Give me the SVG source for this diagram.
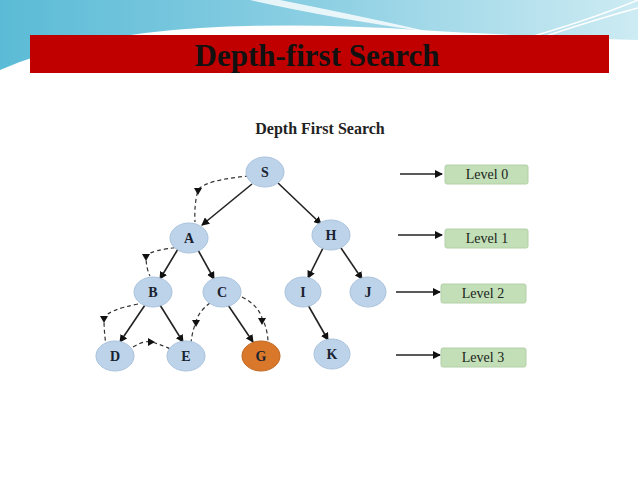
<svg xmlns="http://www.w3.org/2000/svg" width="638" height="478" viewBox="0 0 638 478">
<style>
.n{fill:#bcd3ea;stroke:#a9c2dc;stroke-width:1}
.nt{font-family:"Liberation Serif",serif;font-weight:bold;font-size:14px;fill:#1a2230;text-anchor:middle}
.e{stroke:#222;stroke-width:1.6;fill:none;marker-end:url(#ah)}
.d{stroke:#333;stroke-width:1.2;stroke-dasharray:4 3;fill:none}
.lv{fill:#c3dfb8;stroke:#b3cfa8}
.lt{font-family:"Liberation Serif",serif;font-size:14px;fill:#1a241a;text-anchor:middle}
.tri{fill:#111}
</style>
<defs>
<marker id="ah" markerWidth="8" markerHeight="8" refX="7" refY="4" orient="auto" markerUnits="userSpaceOnUse"><path d="M0,0 L8,4 L0,8 z" fill="#111"/></marker>
<linearGradient id="sky" x1="0" y1="0" x2="1" y2="0"><stop offset="0" stop-color="#5bbbd6"/><stop offset="0.5" stop-color="#8ccfe3"/><stop offset="1" stop-color="#cdebf3"/></linearGradient>
</defs>
<rect width="638" height="478" fill="#fff"/>
<path d="M0,0 H638 V40 Q500,35 420,30 Q300,22 200,28 Q80,35 0,70 Z" fill="url(#sky)"/>
<path d="M280,0 Q380,20 430,32 Q330,18 250,0 Z" fill="#fff" opacity="0.8"/>
<path d="M520,40 Q590,20 638,0 M540,38 Q600,18 638,8" stroke="#fff" stroke-width="1.5" fill="none"/>
<rect x="30" y="35" width="579" height="38" fill="#c00000"/>
<text x="317" y="66" font-family="Liberation Serif,serif" font-weight="bold" font-size="31" text-anchor="middle" fill="#111">Depth-first Search</text>
<rect x="82" y="108" width="474" height="312" fill="#fff"/>
<text x="320" y="134" font-family="Liberation Serif,serif" font-weight="bold" font-size="16" text-anchor="middle" fill="#222">Depth First Search</text>
<g id="connectors">
<line class="e" x1="252" y1="184" x2="202" y2="225"/>
<line class="e" x1="278" y1="183" x2="321" y2="224"/>
<line class="e" x1="178" y1="249" x2="160" y2="279"/>
<line class="e" x1="198" y1="250" x2="214" y2="279"/>
<line class="e" x1="323" y1="248" x2="308" y2="278"/>
<line class="e" x1="341" y1="248" x2="362" y2="279"/>
<line class="e" x1="145" y1="305" x2="120" y2="342"/>
<line class="e" x1="160" y1="305" x2="183" y2="342"/>
<line class="e" x1="228" y1="305" x2="253" y2="342"/>
<line class="e" x1="308" y1="305" x2="328" y2="340"/>
<path class="d" d="M249,176 Q205,180 198,190 Q194,205 195,222"/>
<path class="d" d="M182,247 Q150,250 146,256 Q146,268 150,276"/>
<path class="d" d="M138,304 Q108,310 104,318 Q104,332 106,345"/>
<path class="d" d="M133,347 Q145,340 152,342 Q165,346 172,350"/>
<path class="d" d="M210,303 Q198,312 196,322 Q192,332 191,343"/>
<path class="d" d="M242,297 Q258,305 262,318 Q268,330 268,343"/>
<polygon class="tri" points="194,188 202,188 198,195"/>
<polygon class="tri" points="142,254 150,254 146,261"/>
<polygon class="tri" points="100,316 108,316 104,323"/>
<polygon class="tri" points="148,338 148,346 155,342"/>
<polygon class="tri" points="192,320 200,320 196,327"/>
<polygon class="tri" points="258,318 266,318 262,325"/>
<line class="e" x1="400" y1="174" x2="442" y2="174"/>
<line class="e" x1="398" y1="235" x2="442" y2="235"/>
<line class="e" x1="396" y1="292" x2="440" y2="292"/>
<line class="e" x1="396" y1="355" x2="440" y2="355"/>
</g>
<g id="S"><ellipse class="n" cx="265" cy="172" rx="19" ry="15"/><text class="nt" x="265" y="177">S</text></g>
<g id="A"><ellipse class="n" cx="189" cy="238" rx="19" ry="15"/><text class="nt" x="189" y="243">A</text></g>
<g id="H"><ellipse class="n" cx="331" cy="235" rx="19" ry="15"/><text class="nt" x="331" y="240">H</text></g>
<g id="B"><ellipse class="n" cx="153" cy="292" rx="19" ry="15"/><text class="nt" x="153" y="297">B</text></g>
<g id="C"><ellipse class="n" cx="222" cy="292" rx="19" ry="15"/><text class="nt" x="222" y="297">C</text></g>
<g id="I"><ellipse class="n" cx="303" cy="292" rx="18" ry="15"/><text class="nt" x="303" y="297">I</text></g>
<g id="J"><ellipse class="n" cx="368" cy="292" rx="18" ry="15"/><text class="nt" x="368" y="297">J</text></g>
<g id="D"><ellipse class="n" cx="115" cy="356" rx="19" ry="15"/><text class="nt" x="115" y="361">D</text></g>
<g id="E"><ellipse class="n" cx="186" cy="356" rx="19" ry="15"/><text class="nt" x="186" y="361">E</text></g>
<g id="G"><ellipse cx="261" cy="356" rx="19" ry="15" fill="#d9782a" stroke="#c06620"/><text class="nt" x="261" y="361">G</text></g>
<g id="K"><ellipse class="n" cx="332" cy="354" rx="18" ry="15"/><text class="nt" x="332" y="359">K</text></g>
<g id="L0"><rect class="lv" x="445" y="165" width="83" height="19" rx="2"/><text class="lt" x="487" y="179">Level 0</text></g>
<g id="L1"><rect class="lv" x="445" y="229" width="83" height="19" rx="2"/><text class="lt" x="487" y="243">Level 1</text></g>
<g id="L2"><rect class="lv" x="441" y="284" width="85" height="19" rx="2"/><text class="lt" x="483" y="298">Level 2</text></g>
<g id="L3"><rect class="lv" x="441" y="348" width="85" height="19" rx="2"/><text class="lt" x="483" y="362">Level 3</text></g>
</svg>
